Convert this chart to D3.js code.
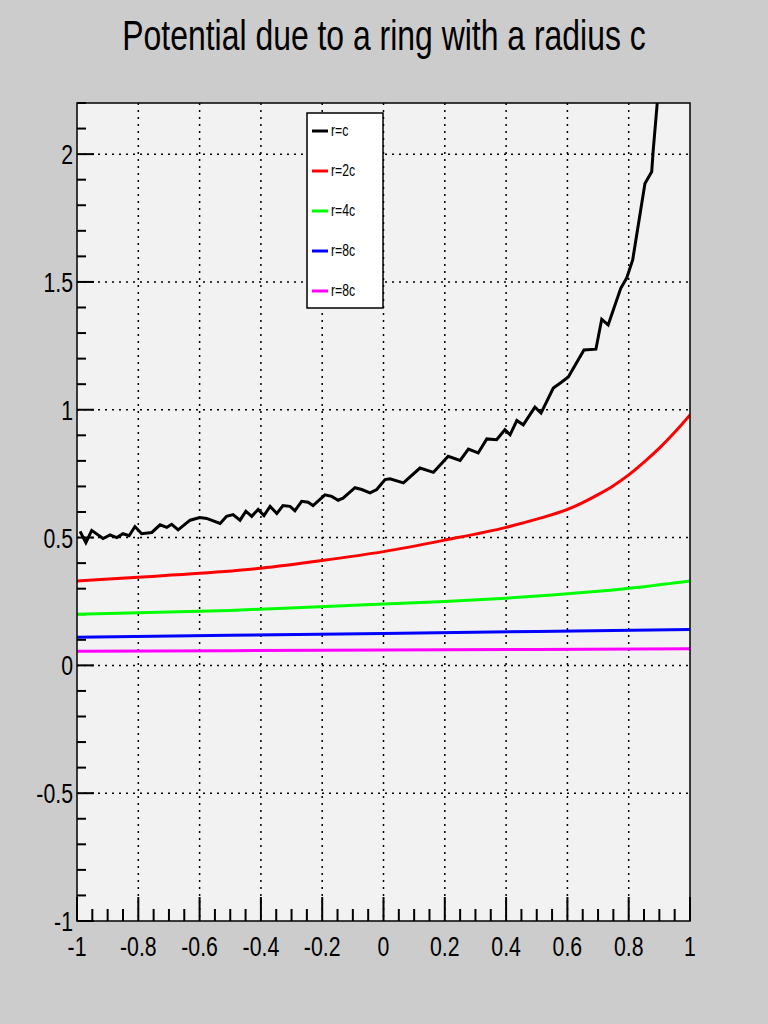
<!DOCTYPE html>
<html><head><meta charset="utf-8">
<script src="https://cdn.jsdelivr.net/npm/d3@7"></script>
<style>body{margin:0;background:#cccccc}svg{display:block}text{font-family:"Liberation Sans",Arial,sans-serif}</style>
</head><body><div id="chart"></div>
<script>
// values
const blackX = [-0.990,-0.971,-0.952,-0.915,-0.892,-0.870,-0.850,-0.830,-0.811,-0.789,-0.756,-0.729,-0.707,-0.691,-0.670,-0.631,-0.599,-0.577,-0.533,-0.512,-0.491,-0.468,-0.449,-0.430,-0.409,-0.390,-0.370,-0.348,-0.328,-0.305,-0.289,-0.267,-0.246,-0.230,-0.191,-0.169,-0.148,-0.132,-0.093,-0.071,-0.044,-0.022,0.005,0.021,0.065,0.119,0.163,0.211,0.250,0.277,0.309,0.337,0.369,0.396,0.413,0.435,0.456,0.494,0.514,0.554,0.576,0.603,0.654,0.693,0.712,0.733,0.750,0.774,0.793,0.813,0.853,0.875,0.880,0.893,0.905]
const blackY = [0.524,0.48,0.528,0.496,0.51,0.50,0.515,0.507,0.543,0.515,0.52,0.55,0.54,0.552,0.53,0.568,0.578,0.575,0.555,0.583,0.59,0.568,0.603,0.583,0.61,0.586,0.622,0.594,0.625,0.622,0.605,0.642,0.638,0.625,0.667,0.661,0.646,0.654,0.695,0.688,0.675,0.688,0.727,0.73,0.714,0.772,0.755,0.818,0.802,0.846,0.831,0.886,0.883,0.922,0.902,0.958,0.941,1.010,0.987,1.085,1.104,1.128,1.234,1.237,1.354,1.332,1.391,1.475,1.514,1.586,1.885,1.931,2.016,2.198,2.45]
const redX = [-1,-0.8,-0.6,-0.4,-0.2,0,0.2,0.4,0.5,0.6,0.65,0.7,0.75,0.8,0.85,0.9,0.95,1]
const redY = [0.33,0.345,0.36,0.38,0.41,0.445,0.49,0.54,0.572,0.61,0.637,0.668,0.703,0.745,0.795,0.85,0.912,0.98]
const greenX = [-1,-0.5,0,0.2,0.4,0.55,0.7,0.85,1]
const greenY = [0.2,0.215,0.24,0.25,0.263,0.275,0.29,0.308,0.33]
const blueX = [-1,0,1]
const blueY = [0.11,0.125,0.14]
const magentaX = [-1,0,1]
const magentaY = [0.055,0.06,0.065]
const seriesNames = ["r=c","r=2c","r=4c","r=8c","r=8c"]
const seriesColors = ["#000000","#ff0000","#00ff00","#0000ff","#ff00ff"]
const xTicks = [-1,-0.8,-0.6,-0.4,-0.2,0,0.2,0.4,0.6,0.8,1]
const yTicks = [-1,-0.5,0,0.5,1,1.5,2]

const W = 768, H = 1024
const frame = {left: 77, right: 690, top: 103, bottom: 921}
const narrow = 0.76

const svg = d3.select("#chart").append("svg").attr("width", W).attr("height", H)
svg.append("rect").attr("width", W).attr("height", H).attr("fill", "#cccccc")

const x = d3.scaleLinear().domain([-1, 1]).range([frame.left, frame.right])
const y = d3.scaleLinear().domain([-1, 2.2]).range([frame.bottom, frame.top])

// condensed text helper
function label(g, tx, ty, size, anchor, str) {
    return g.append("text")
        .attr("transform", "translate(" + tx + "," + ty + ") scale(" + narrow + ",1)")
        .attr("text-anchor", anchor).attr("font-size", size).text(str)
}

svg.append("rect")
    .attr("x", frame.left).attr("y", frame.top)
    .attr("width", frame.right - frame.left).attr("height", frame.bottom - frame.top)
    .attr("fill", "#f2f2f2")

// dotted grid
svg.append("g").selectAll("line").data(xTicks.slice(1, -1)).enter().append("line")
    .attr("x1", d => x(d)).attr("x2", d => x(d)).attr("y1", frame.top).attr("y2", frame.bottom)
    .attr("stroke", "#000").attr("stroke-width", 1.5).attr("stroke-dasharray", "2,5")
svg.append("g").selectAll("line").data(yTicks.slice(1)).enter().append("line")
    .attr("y1", d => y(d)).attr("y2", d => y(d)).attr("x1", frame.left).attr("x2", frame.right)
    .attr("stroke", "#000").attr("stroke-width", 1.5).attr("stroke-dasharray", "2,5")

// ticks drawn inside the frame like ROOT
const yMinor = d3.range(-1, 2.21, 0.1)
svg.append("g").selectAll("line").data(yMinor).enter().append("line")
    .attr("x1", frame.left).attr("y1", d => y(d)).attr("y2", d => y(d))
    .attr("x2", d => frame.left + (Math.abs(d * 2 - Math.round(d * 2)) < 1e-6 ? 17 : 9))
    .attr("stroke", "#000").attr("stroke-width", 2)
const xMinor = d3.range(-1, 1.001, 0.05)
svg.append("g").selectAll("line").data(xMinor).enter().append("line")
    .attr("y1", frame.bottom).attr("x1", d => x(d)).attr("x2", d => x(d))
    .attr("y2", d => frame.bottom - (Math.abs(d * 5 - Math.round(d * 5)) < 1e-6 ? 24 : 12))
    .attr("stroke", "#000").attr("stroke-width", 2)

const yl = svg.append("g")
yTicks.forEach(d => label(yl, frame.left - 4, y(d) + 10, 28, "end", d))
const xl = svg.append("g")
xTicks.forEach(d => label(xl, x(d), frame.bottom + 35, 28, "middle", d))

// curves
svg.append("clipPath").attr("id", "clip").append("rect")
    .attr("x", frame.left).attr("y", frame.top)
    .attr("width", frame.right - frame.left).attr("height", frame.bottom - frame.top)

const series = [
    {xs: blackX, ys: blackY, curve: d3.curveLinear},
    {xs: redX, ys: redY, curve: d3.curveMonotoneX},
    {xs: greenX, ys: greenY, curve: d3.curveMonotoneX},
    {xs: blueX, ys: blueY, curve: d3.curveMonotoneX},
    {xs: magentaX, ys: magentaY, curve: d3.curveMonotoneX}
]
series.forEach(function(s, i){
    let pts = s.xs.map((v, j) => [v, s.ys[j]])
    svg.append("path").attr("clip-path", "url(#clip)")
        .attr("d", d3.line().x(d => x(d[0])).y(d => y(d[1])).curve(s.curve)(pts))
        .attr("fill", "none").attr("stroke", seriesColors[i]).attr("stroke-width", 3)
})

svg.append("rect")
    .attr("x", frame.left).attr("y", frame.top)
    .attr("width", frame.right - frame.left).attr("height", frame.bottom - frame.top)
    .attr("fill", "none").attr("stroke", "#000").attr("stroke-width", 1.5)

// legend
const leg = svg.append("g").attr("transform", "translate(307,113)")
leg.append("rect").attr("width", 76).attr("height", 195).attr("fill", "#fff")
    .attr("stroke", "#000").attr("stroke-width", 1.5)
seriesNames.forEach(function(n, i){
    let ly = 18 + i * 40
    leg.append("line").attr("x1", 5).attr("x2", 21).attr("y1", ly).attr("y2", ly)
        .attr("stroke", seriesColors[i]).attr("stroke-width", 3)
    label(leg, 24, ly + 5, 16, "start", n)
})

label(svg, 384, 50, 42, "middle", "Potential due to a ring with a radius c")
</script></body></html>
